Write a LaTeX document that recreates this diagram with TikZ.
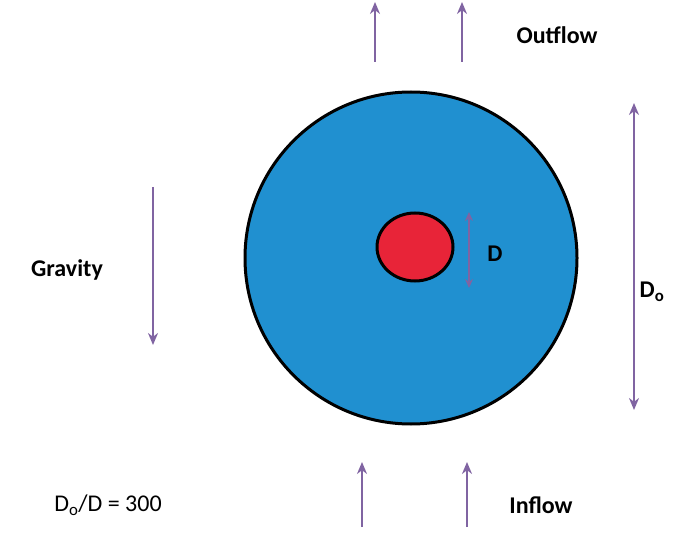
\documentclass[tikz,border=0pt]{standalone}
\usepackage{fontspec}
\setmainfont{Carlito}
\usetikzlibrary{arrows.meta,shapes.geometric}
\definecolor{arr}{RGB}{128,100,162}
\definecolor{fill1}{RGB}{32,144,208}
\definecolor{fill2}{RGB}{232,36,56}
\begin{document}
\begin{tikzpicture}[x=1pt,y=-1pt,
  flow/.style={draw=arr,line width=2.2pt,-{Stealth[length=12pt,width=10pt]}},
  flow2/.style={draw=arr,line width=2.2pt,{Stealth[length=12pt,width=10pt]}-{Stealth[length=12pt,width=10pt]}},
  lbl/.style={font=\fontsize{24}{28}\selectfont\bfseries}]
\useasboundingbox (0,0) rectangle (685,537);
\node[draw=black,line width=3pt,fill=fill1,circle,minimum size=332pt,inner sep=0] (big) at (411,258) {};
\node[draw=black,line width=3pt,fill=fill2,ellipse,minimum width=76pt,minimum height=68pt,inner sep=0] (small) at (415,247) {};
\coordinate (o1s) at (375,62); \coordinate (o1e) at (375,2);
\coordinate (o2s) at (462,62); \coordinate (o2e) at (462,2);
\coordinate (i1s) at (362,527); \coordinate (i1e) at (362,462);
\coordinate (i2s) at (467,527); \coordinate (i2e) at (467,462);
\coordinate (gs) at (153,187); \coordinate (ge) at (153,345);
\coordinate (da) at (634,103); \coordinate (db) at (634,410);
\coordinate (sa) at (469,212); \coordinate (sb) at (469,288);
\draw[flow] (o1s) -- (o1e);
\draw[flow] (o2s) -- (o2e);
\draw[flow] (i1s) -- (i1e);
\draw[flow] (i2s) -- (i2e);
\draw[flow] (gs) -- (ge);
\draw[flow2] (da) -- (db);
\draw[draw=arr,line width=1.8pt,{Stealth[length=9pt,width=8pt]}-{Stealth[length=9pt,width=8pt]}] (sa) -- (sb);
\node[lbl] (out) at (557,35) {Outflow};
\node[lbl] (in) at (541,505) {Inflow};
\node[lbl] (grav) at (67,270) {Gravity};
\node[lbl] (d) at (495,254) {D};
\node[lbl] (do) at (652,292) {D\textsubscript{o}};
\node[font=\fontsize{24}{28}\selectfont] (ratio) at (108,505) {D\textsubscript{o}/D = 300};
\end{tikzpicture}
\end{document}
